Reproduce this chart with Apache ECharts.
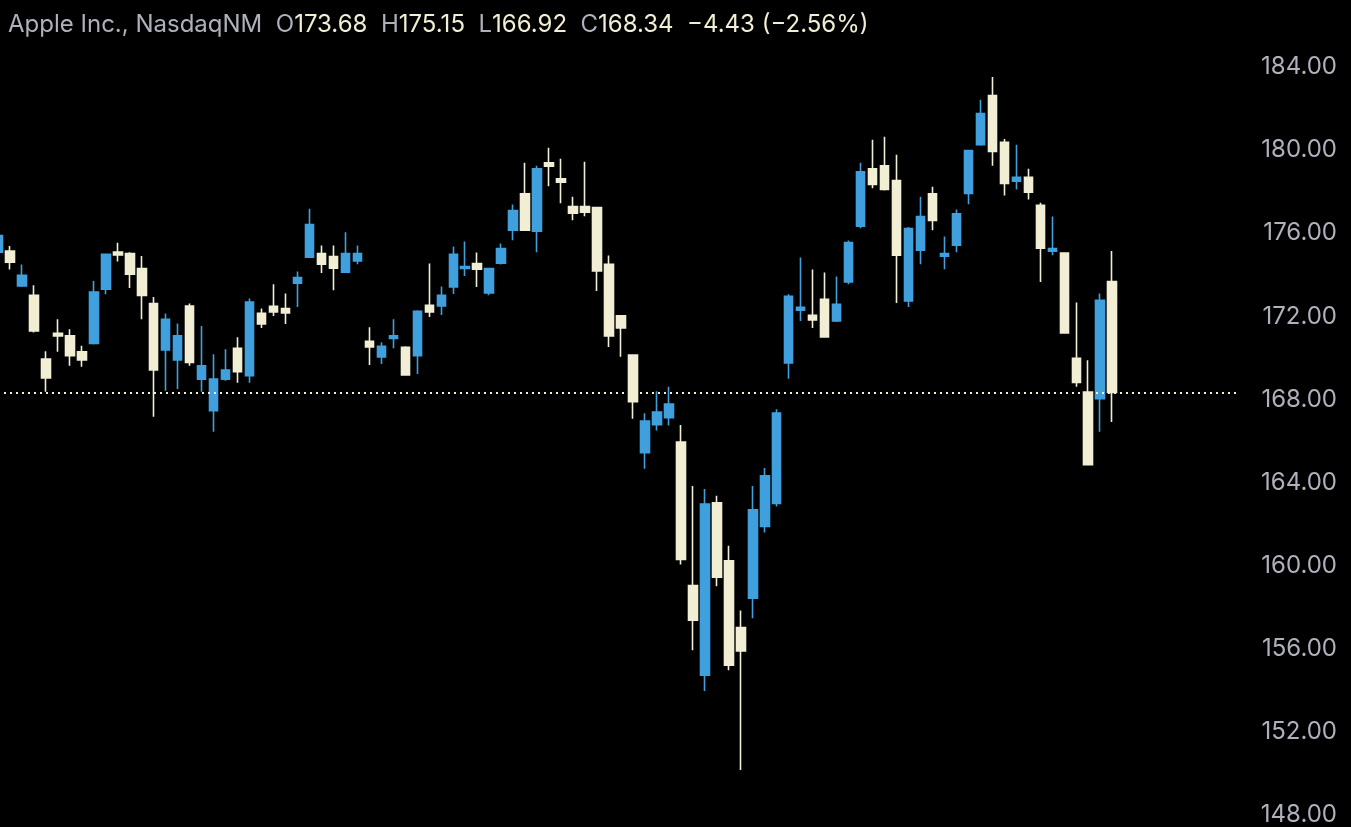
<!DOCTYPE html>
<html>
<head>
<meta charset="utf-8">
<script src="https://cdn.jsdelivr.net/npm/echarts@6/dist/echarts.min.js"></script>
<style>
html,body{margin:0;padding:0;background:#000;overflow:hidden;}
#chart{position:absolute;left:-8px;top:0;width:1359px;height:827px;}
</style>
</head>
<body>
<div id="chart"></div>
<script>
// ---- Data ----
const titleName = 'Apple Inc., NasdaqNM';
const lastOHLC = { O: '173.68', H: '175.15', L: '166.92', C: '168.34' };
const changeText = '\u22124.43 (\u22122.56%)';
const lastClose = 168.34;

const opens  = [175.09,175.14,173.46,173.01,169.94,171.18,171.06,170.29,170.70,173.30,
                175.09,175.02,174.30,172.62,170.38,169.90,172.50,168.98,167.46,168.98,
                170.46,169.14,172.14,172.48,172.38,173.60,174.85,175.02,174.88,174.13,
                174.66,170.80,170.05,170.94,170.51,170.10,172.53,172.50,173.41,174.30,
                174.54,173.12,174.56,176.14,177.90,176.10,179.39,178.62,177.28,177.28,
                177.23,174.50,172.02,170.14,165.44,166.78,167.12,165.95,159.04,154.73,
                163.02,160.24,157.02,158.43,161.89,162.99,169.76,172.30,172.05,172.82,
                171.78,173.65,176.34,179.10,179.25,178.53,172.74,175.18,177.90,174.90,
                175.42,177.92,180.26,182.62,180.37,178.50,178.69,177.34,175.14,175.04,
                169.98,168.35,168.03,173.68];
const closes = [175.89,174.61,173.97,171.30,169.04,171.06,170.10,169.90,173.17,174.98,
                174.96,174.03,173.01,169.42,171.86,171.06,169.78,169.62,168.98,169.41,
                169.33,172.69,171.63,172.21,172.16,173.87,176.42,174.51,174.32,175.02,
                175.02,170.53,170.56,171.06,169.18,172.24,172.21,173.01,174.98,174.40,
                174.27,174.30,175.26,177.09,176.14,179.10,179.22,178.45,176.96,177.01,
                174.18,171.06,171.44,167.89,166.96,167.39,167.78,160.30,157.37,162.97,
                159.44,155.21,155.89,162.69,164.32,167.34,172.96,172.43,171.82,171.01,
                172.58,175.55,178.96,178.35,178.11,174.94,176.22,176.80,176.62,175.02,
                176.94,179.98,181.76,179.94,178.40,178.69,177.97,175.28,175.26,171.20,
                168.82,164.86,172.77,168.34];
const lows   = [174.95,174.26,173.41,171.22,168.37,170.29,169.62,169.57,170.65,173.06,
                174.64,173.36,171.86,167.17,168.42,168.50,169.62,168.37,166.45,168.90,
                168.80,168.80,171.44,172.02,171.63,172.45,174.85,174.08,173.26,174.13,
                174.51,169.66,169.71,170.46,169.18,169.23,171.97,172.06,173.07,173.94,
                173.41,173.02,174.50,175.66,176.14,175.09,178.26,177.44,176.62,176.82,
                173.22,170.53,170.05,167.07,164.67,166.50,166.74,160.06,155.93,153.97,
                159.01,154.97,150.17,157.47,161.60,162.85,168.99,171.78,171.44,171.01,
                171.73,173.55,176.24,178.16,178.06,172.64,172.45,174.51,176.14,174.27,
                175.09,177.39,180.21,179.25,177.81,178.10,177.62,173.65,174.94,171.20,
                168.61,164.86,166.45,166.92];
const highs  = [176.05,175.38,174.50,173.49,170.32,171.86,171.38,170.58,173.70,174.98,
                175.54,175.09,174.90,172.93,172.14,171.66,172.62,171.54,170.18,170.42,
                170.99,172.86,172.38,173.54,173.10,174.16,177.18,175.41,175.41,176.05,
                175.41,171.47,170.75,171.86,170.56,172.29,174.54,173.44,175.36,175.60,
                175.07,174.32,175.50,177.38,179.39,179.25,180.11,179.58,177.76,179.44,
                177.28,174.93,172.02,170.14,167.34,168.40,168.61,166.77,163.84,163.69,
                163.36,160.96,157.84,163.84,164.70,167.53,173.06,174.83,174.26,174.11,
                173.92,175.65,179.39,180.50,180.64,179.78,176.30,177.76,178.24,175.84,
                177.14,180.02,182.42,183.52,180.54,180.26,179.10,177.47,176.80,175.07,
                172.67,169.89,173.10,175.15];
// category slots: one per trading session, plus empty slots to the right edge
const totalSlots = 104;
const categories = Array.from({length: totalSlots}, (_, i) => String(i + 1));
const yMin = 148, yMax = 184, yStep = 4;

// ---- Styles ----
const BLUE = '#40a0de';
const CREAM = '#f2eed3';
const GREY = '#aeb1bb';
const FONT = 'Inter, "Noto Sans", sans-serif';

const candleData = opens.map((o, i) => [o, closes[i], lows[i], highs[i]]);

const titleText =
  '{g|' + titleName + '  O}{v|' + lastOHLC.O + '}' +
  '{g|  H}{v|' + lastOHLC.H + '}' +
  '{g|  L}{v|' + lastOHLC.L + '}' +
  '{g|  C}{v|' + lastOHLC.C + '}' +
  '{v|  ' + changeText + '}';

const chart = echarts.init(document.getElementById('chart'), null, {renderer: 'canvas'});
chart.setOption({
  backgroundColor: '#000',
  animation: false,
  title: {
    left: 11, top: 8,
    text: titleText,
    textStyle: {
      fontFamily: FONT, fontSize: 24, fontWeight: 'normal',
      rich: {
        g: { color: GREY, fontFamily: FONT, fontSize: 24 },
        v: { color: CREAM, fontFamily: FONT, fontSize: 24 }
      }
    }
  },
  grid: { left: 0, right: 113, top: 67, bottom: 10, containLabel: false },
  xAxis: {
    type: 'category', data: categories, boundaryGap: true, show: false
  },
  yAxis: {
    type: 'value', position: 'right', min: yMin, max: yMax, interval: yStep,
    axisLine: { show: false }, axisTick: { show: false }, splitLine: { show: false },
    axisLabel: {
      color: GREY, fontFamily: FONT, fontSize: 24, align: 'right', margin: 99,
      formatter: v => v.toFixed(2)
    }
  },
  series: [{
    type: 'candlestick',
    data: candleData,
    barWidth: 9,
    itemStyle: {
      color: BLUE, color0: CREAM, borderColor: BLUE, borderColor0: CREAM, borderWidth: 1.6
    },
    markLine: {
      silent: true, symbol: 'none', label: { show: false },
      lineStyle: { color: CREAM, type: [2, 4], width: 2 },
      data: [{ yAxis: lastClose }]
    }
  }]
});
</script>
</body>
</html>
